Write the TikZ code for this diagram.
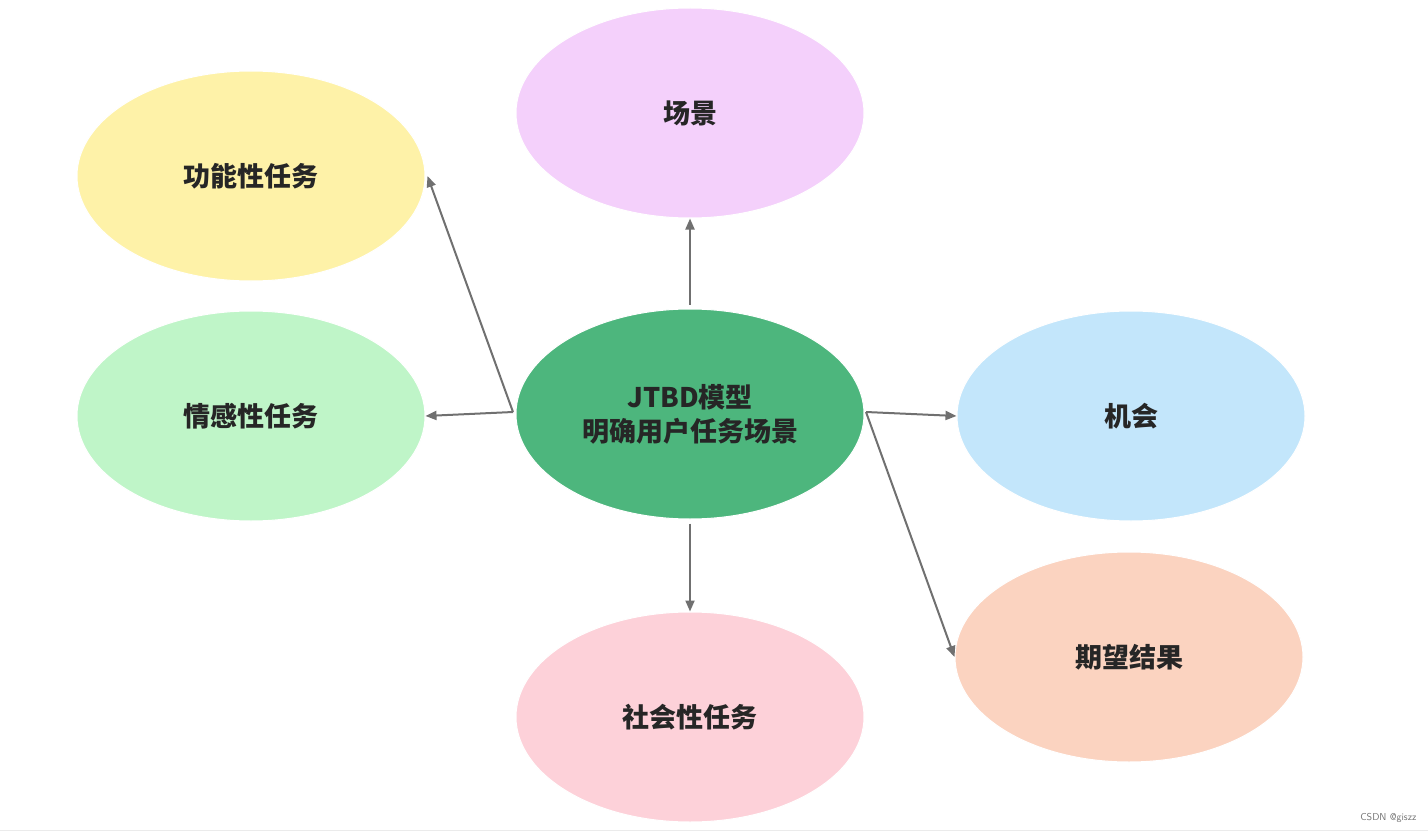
\documentclass[tikz,border=0pt]{standalone}
\usepackage{fontspec}
\newfontfamily\cjk{Noto Sans CJK SC}
\usetikzlibrary{shapes.geometric,arrows.meta}
\definecolor{cy}{HTML}{FEF2A8}
\definecolor{cp}{HTML}{F4D0FB}
\definecolor{cg}{HTML}{BFF5C8}
\definecolor{cm}{HTML}{4DB67D}
\definecolor{cb}{HTML}{C3E6FB}
\definecolor{co}{HTML}{FBD3C0}
\definecolor{cr}{HTML}{FDD1D9}
\definecolor{ln}{HTML}{707070}
\begin{document}
\begin{tikzpicture}[x=1pt,y=-1pt,
  bubble/.style={ellipse,minimum width=348pt,minimum height=210pt,inner sep=0pt,draw=white,line width=1pt,
    font=\cjk\bfseries\fontsize{27}{34}\selectfont,text=black!85,align=center},
  conn/.style={draw=ln,line width=2pt,-{Triangle[length=11pt,width=9pt]}}]
\useasboundingbox[fill=white] (0,0) rectangle (1428,832);
\node[bubble,fill=cp] (scene) at (690,113) {场景};
\node[bubble,fill=cy] (func) at (251,176) {功能性任务};
\node[bubble,fill=cg] (emo) at (251,416) {情感性任务};
\node[bubble,fill=cm] (core) at (690,414) {JTBD模型\\明确用户任务场景};
\node[bubble,fill=cb] (opp) at (1131,416) {机会};
\node[bubble,fill=co] (exp) at (1129,657) {期望结果};
\node[bubble,fill=cr] (soc) at (690,717) {社会性任务};
\coordinate (cl) at (513,412);
\coordinate (cr) at (866,412);
\path[conn] (core.north) ++(0,-4) -- (scene.south);
\path[conn] (core.south) ++(0,4) -- (soc.north);
\path[conn] (cl) -- (emo.east);
\path[conn] (cl) -- ([xshift=2pt]func.east);
\path[conn] (cr) -- (opp.west);
\path[conn] (cr) -- (exp.west);
\node[anchor=south east,font=\fontsize{10}{12}\selectfont\sffamily,text=black!55] (wm) at (1420,826) {CSDN @giszz};
\draw[black!8,line width=1pt] (0,830) -- (1428,830);
\end{tikzpicture}
\end{document}
